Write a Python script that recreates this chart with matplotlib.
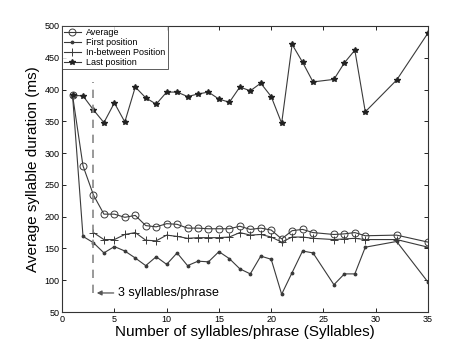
import matplotlib
matplotlib.use("Agg")
import matplotlib.pyplot as plt

plt.rcParams['font.family'] = ['Liberation Sans', 'DejaVu Sans']

# syllables per phrase
x_all = [1, 2, 3, 4, 5, 6, 7, 8, 9, 10, 11, 12, 13, 14, 15, 16, 17, 18, 19, 20,
         21, 22, 23, 24, 26, 27, 28, 29, 32, 35]
avg = [391, 280, 234, 204, 204, 199, 202, 186, 184, 189, 188, 182, 182, 181, 181,
       181, 185, 180, 182, 179, 165, 178, 180, 175, 172, 173, 175, 170, 171, 160]
first = [391, 169, 159, 143, 153, 146, 135, 123, 137, 125, 143, 123, 130, 129, 145,
         134, 118, 110, 138, 133, 78, 112, 146, 143, 93, 110, 110, 152, 161, 97]
last = [391, 390, 368, 348, 379, 349, 404, 387, 377, 396, 396, 389, 393, 396, 385,
        380, 404, 398, 410, 389, 347, 471, 443, 412, 416, 442, 462, 365, 415, 489]
x_mid = x_all[2:]
between = [175, 164, 164, 172, 175, 163, 162, 171, 169, 166, 167, 167, 167,
           168, 175, 171, 172, 168, 160, 168, 168, 166, 164, 165, 166, 164, 164, 152]

fig = plt.figure(figsize=(4.74, 3.51), dpi=100)
ax = fig.add_axes([0.131, 0.111, 0.772, 0.815])

lc = '#3a3a3a'
ax.plot(x_all, avg, color=lc, lw=0.8, marker='o', ms=5, mfc='none', mec=lc, mew=0.7, label='Average')
ax.plot(x_all, first, color=lc, lw=0.8, marker='.', ms=3.5, label='First position')
ax.plot(x_mid, between, color=lc, lw=0.8, marker='+', ms=6, mew=0.7, label='In-between Position')
ax.plot(x_all, last, color=lc, lw=0.8, marker='*', ms=4, mfc='#222222', mec='#222222', label='Last position')

ax.plot([3, 3], [80, 412], color='#888888', lw=1.2, ls=(0, (5, 4)))
ax.annotate('', xy=(3.05, 80), xytext=(5.2, 80),
            arrowprops=dict(arrowstyle='-|>', color='#555555', lw=0.9, mutation_scale=7))
ax.text(5.35, 80, '3 syllables/phrase', fontsize=9, va='center', ha='left')

ax.set_xlim(0, 35)
ax.set_ylim(50, 500)
ax.set_xticks(range(0, 36, 5))
ax.set_yticks(range(50, 501, 50))
ax.tick_params(direction='in', top=True, right=True, labelsize=6.5, length=3, width=0.6, pad=2)
for s in ax.spines.values():
    s.set_linewidth(0.8)
    s.set_color('#333333')

ax.set_xlabel('Number of syllables/phrase (Syllables)', fontsize=11, labelpad=1)
ax.set_ylabel('Average syllable duration (ms)', fontsize=11, labelpad=3)

leg = ax.legend(loc='upper left', fontsize=6.5, frameon=True, fancybox=False,
                borderaxespad=0, handlelength=1.8, handletextpad=0.6,
                labelspacing=0.1, borderpad=0.25)
leg.get_frame().set_edgecolor('#333333')
leg.get_frame().set_linewidth(0.7)

fig.savefig('out.png', dpi=100)
